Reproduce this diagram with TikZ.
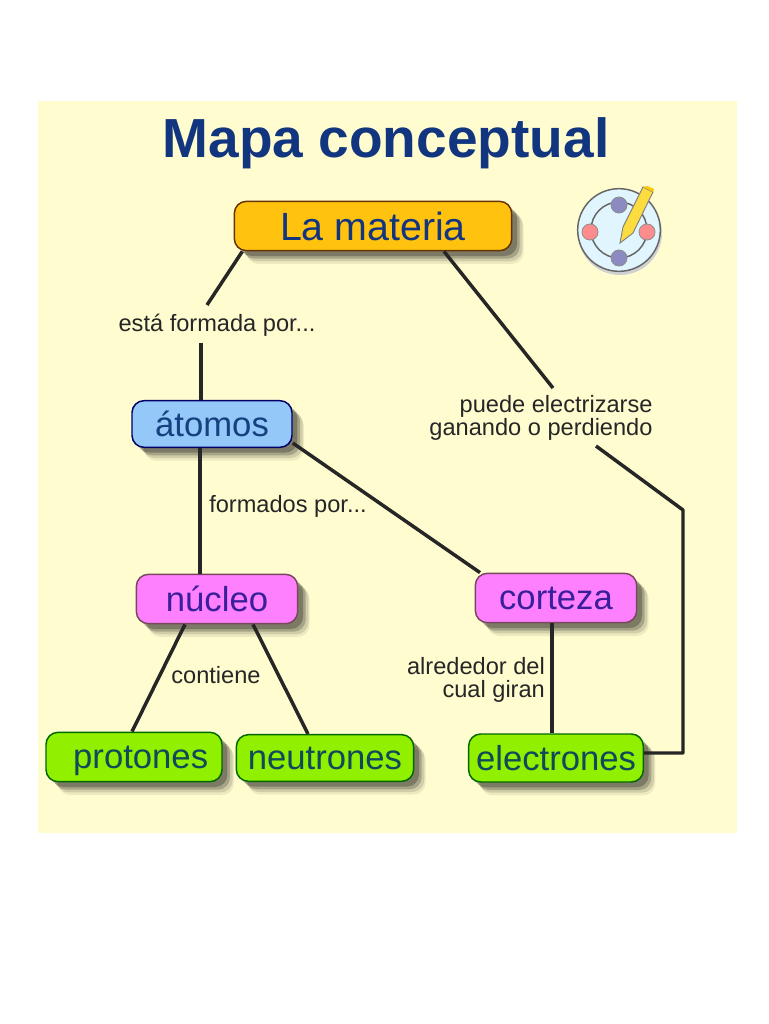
\documentclass[tikz,border=0pt]{standalone}
\usepackage{fontspec}
\setmainfont{Liberation Sans}
\usetikzlibrary{shadows}
\definecolor{paper}{HTML}{FFFCCF}
\definecolor{navy}{HTML}{12357F}
\definecolor{inkblue}{HTML}{16407F}
\definecolor{inkpurple}{HTML}{3A1F9A}
\definecolor{inkgreen}{HTML}{0F4A5A}
\definecolor{gold}{HTML}{FFC20E}
\definecolor{sky}{HTML}{93C8F8}
\definecolor{pinkbox}{HTML}{FF80FF}
\definecolor{lime}{HTML}{90F000}
\tikzset{
	concept/.style={rectangle, rounded corners=9pt, line width=1.1pt, inner sep=0pt,
		drop shadow={shadow xshift=9pt, shadow yshift=-10pt, opacity=0.07, fill=black},
		drop shadow={shadow xshift=8pt, shadow yshift=-8pt, opacity=0.12, fill=black},
		drop shadow={shadow xshift=6pt, shadow yshift=-6pt, opacity=0.2, fill=black},
		drop shadow={shadow xshift=4pt, shadow yshift=-4pt, opacity=0.25, fill=black},
		font=\fontsize{26}{30}\selectfont},
	link/.style={line width=2.6pt, black!85, line join=round},
	linktext/.style={font=\fontsize{17.7}{17}\selectfont, text=black!85, inner sep=0pt},
}
\begin{document}
\begin{tikzpicture}[x=0.75pt, y=-0.75pt]
	\useasboundingbox (0,0) rectangle (768,1024);
	\fill[paper] (38,101) rectangle (737,833);
	\node[font=\fontsize{41.3}{44}\selectfont\bfseries, text=navy, inner sep=0pt] (title) at(386,143){Mapa conceptual};
	% conceptos
	\node[concept, fill=gold, draw=black!60!orange, minimum width=208pt, minimum height=37pt,
		text=navy, font=\fontsize{29.5}{32}\selectfont] (materia) at(373,226){La materia};
	\node[concept, fill=sky, draw=black!60!blue, minimum width=120pt, minimum height=35pt,
		text=inkblue] (atomos) at(212,424){átomos};
	\node[concept, fill=pinkbox, draw=black!60!magenta, minimum width=121pt, minimum height=37pt,
		text=inkpurple] (nucleo) at(217,599){núcleo};
	\node[concept, fill=pinkbox, draw=black!60!magenta, minimum width=121pt, minimum height=37pt,
		text=inkpurple] (corteza) at(556,598){corteza};
	\node[concept, fill=lime, draw=black!60!green, minimum width=132pt, minimum height=37pt,
		text=inkgreen] (protones) at(134,757){\hspace*{10pt}\rule{0pt}{22pt}protones};
	\node[concept, fill=lime, draw=black!60!green, minimum width=133pt, minimum height=35pt,
		text=inkgreen] (neutrones) at(325,758){neutrones};
	\node[concept, fill=lime, draw=black!60!green, minimum width=131pt, minimum height=36pt,
		text=inkgreen] (electrones) at(556,758){electrones};
	% textos
	\node[linktext] (forma) at(217,325){está formada por...};
	\node[linktext, align=right] (electriza) at(541,418){puede electrizarse\\ganando o perdiendo};
	\node[linktext] (formados) at(288,506){formados por...};
	\node[linktext] (contiene) at(216,675){contiene};
	\node[linktext, align=right] (giran) at(476,680){alrededor del\\cual giran};
	% puntos libres
	\coordinate (forma1) at(207,305);
	\coordinate (forma2) at(201,343);
	\coordinate (electriza1) at(553,388);
	\coordinate (electriza2) at(596,446);
	\coordinate (esquina1) at(683,510);
	\coordinate (esquina2) at(683,753);
	% enlaces
	\draw[link] (materia.191.5) -- (forma1);
	\draw[link] (forma2) -- (atomos.north -| forma2);
	\draw[link] (materia.south -| 444,0) -- (electriza1);
	\draw[link] (electriza2) -- (esquina1) -- (esquina2) -- (esquina2 -| electrones.east);
	\draw[link] (atomos.south -| 200,0) -- (nucleo.north -| 200,0);
	\draw[link] (atomos.east |- 0,443) -- (corteza.north -| 480,0);
	\draw[link] (nucleo.south -| 185,0) -- (protones.north -| 132,0);
	\draw[link] (nucleo.south -| 253,0) -- (neutrones.north -| 308,0);
	\draw[link] (corteza.south -| 552,0) -- (electrones.north -| 552,0);
	% icono
	\fill[black!18] (620,233) circle[radius=31.5pt];
	\draw[black!60, fill=white!88!cyan, line width=1.1pt] (619,230) circle[radius=31pt];
	\draw[black!60, line width=1.1pt] (619,230) circle[radius=21pt];
	\foreach \px/\py/\pc in {619/205/blue!30!gray!70, 619/258/blue!30!gray!70, 590/232/red!45, 647/232/red!45}
		\draw[black!45, fill=\pc, line width=0.6pt] (\px,\py) circle[radius=6pt];
	\draw[black!50, fill=yellow!70!orange!75, line width=0.7pt] (620,243) -- (623,227) -- (643,187) -- (653,192) -- (633,233) -- cycle;
	\fill[yellow!60!orange] (643,187) -- (647,186) -- (654,189) -- (653,192) -- cycle;
\end{tikzpicture}
\end{document}
